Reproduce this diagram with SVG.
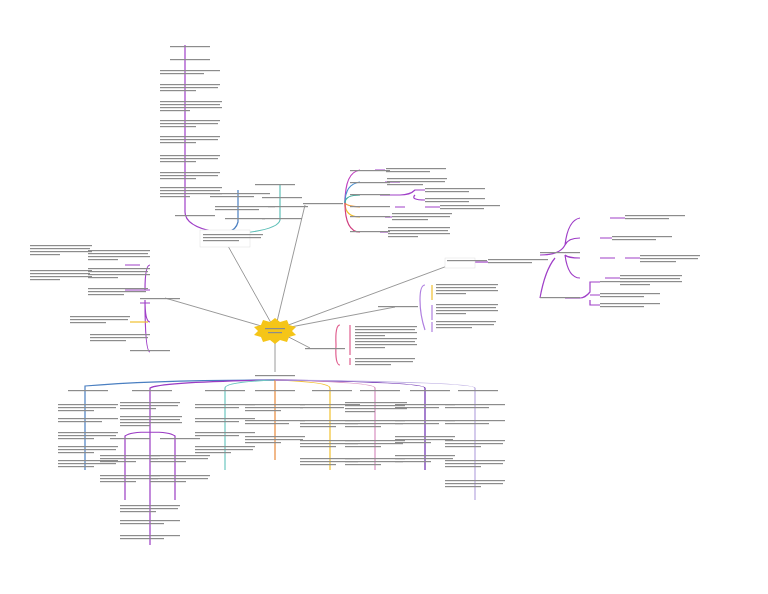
<svg xmlns="http://www.w3.org/2000/svg" width="768" height="594" viewBox="0 0 768 594">
<style>
.g{stroke:#9a9a9a;stroke-width:1;fill:none}
.c{fill:none;stroke-width:1.2}
.t rect,rect.t{fill:#8c8c8c}
.nb{fill:#fff;stroke:#ddd;stroke-width:0.5}
</style>
<defs>
<g id="b1" class="t"><rect width="40" height="1.2"/></g>
<g id="b2" class="t"><rect width="60" height="1.2"/><rect y="3" width="44" height="1.2"/></g>
<g id="b3" class="t"><rect width="60" height="1.2"/><rect y="3" width="58" height="1.2"/><rect y="6" width="36" height="1.2"/></g>
<g id="b4" class="t"><rect width="62" height="1.2"/><rect y="3" width="60" height="1.2"/><rect y="6" width="62" height="1.2"/><rect y="9" width="30" height="1.2"/></g>
</defs>
<rect width="768" height="594" fill="#fff"/>
<g id="connectors">
<path class="g" d="M275 330L228 246M275 330L305 205M275 330L450 265M275 330L395 307M275 330L310 348M275 330V372M275 330L165 298"/>
<path class="c" stroke="#a040c8" d="M185 45V212Q185 226 215 232"/>
<path class="c" stroke="#4a7fc1" d="M238 190V222Q236 230 228 232"/>
<path class="c" stroke="#60c0b8" d="M280 185V220Q278 230 235 234"/>
<path class="c" stroke="#c040c0" d="M345 203Q345 172 360 170"/>
<path class="c" stroke="#4a90d0" d="M345 203Q345 184 360 182"/>
<path class="c" stroke="#40b0a0" d="M345 203Q345 195 360 195"/>
<path class="c" stroke="#f0a040" d="M345 203Q346 206 360 207"/>
<path class="c" stroke="#f0c030" d="M345 203Q345 217 360 217"/>
<path class="c" stroke="#d04080" d="M345 203Q345 232 360 232"/>
<path class="c" stroke="#a040c8" d="M375 170H385M400 182H385M380 195H390L400 195Q410 195 415 190H425M415 195Q410 200 425 200M395 207H405M425 207H440M385 217H392M380 232H388"/>
<path class="c" stroke="#a040c8" d="M470 262H488"/>
<path class="c" stroke="#a040c8" d="M540 255Q560 255 565 245Q568 238 580 238M565 245Q568 220 580 218M565 255Q568 258 580 258M565 255Q568 278 580 278M600 238H612M610 218H625M600 258H615M625 258H640M605 278H620"/>
<path class="c" stroke="#a040c8" d="M565 298H580Q585 298 590 292V282H600M590 300V305H600M590 295H600"/>
<path class="c" stroke="#a040c8" d="M540 298Q545 270 555 258"/>
<path class="c" stroke="#b080e0" d="M425 285Q420 285 420 300Q420 315 425 330"/>
<path class="c" stroke="#f0c030" d="M432 285V300"/>
<path class="c" stroke="#b080e0" d="M432 305V320M432 322V332"/>
<path class="c" stroke="#e06090" d="M340 325Q335 325 336 345Q335 365 340 365M350 325V355M350 358V365"/>
<path class="c" stroke="#a040c8" d="M150 265Q145 265 145 290M150 290H140M150 303H140M150 322Q145 322 145 300M150 352Q145 352 145 300"/>
<path class="c" stroke="#f0c030" d="M148 322H130"/>
<path class="c" stroke="#a040c8" d="M140 265H125M140 290H125"/>
<path class="c" stroke="#4a7fc1" d="M275 380Q150 380 85 386V470"/>
<path class="c" stroke="#9b3cc4" d="M275 380Q160 382 150 388V545M150 432Q130 432 125 436V500M150 432Q170 432 175 436V500"/>
<path class="c" stroke="#6cc7c0" d="M275 380Q225 382 225 388V470"/>
<path class="c" stroke="#e8893a" d="M275 380V460"/>
<path class="c" stroke="#f2c230" d="M275 380Q330 382 330 388V470"/>
<path class="c" stroke="#d78fc0" d="M275 380Q375 382 375 388V470"/>
<path class="c" stroke="#6a2bb0" d="M275 380Q425 382 425 388V470"/>
<path class="c" stroke="#b8a8e0" d="M275 380Q475 382 475 388V500"/>
</g>
<g id="center"><polygon points="275,318 280,322 287,320 289,325 296,327 292,331 296,335 289,337 287,342 280,340 275,344 270,340 263,342 261,337 254,335 258,331 254,327 261,325 263,320 270,322" fill="#f5c518"/><rect class="t" x="265" y="328" width="20" height="1.2"/><rect class="t" x="268" y="332" width="14" height="1.2"/></g>
<g id="n-top"><rect class="nb" x="200" y="230" width="50" height="17"/><use href="#b3" x="203" y="234" transform="scale(1)"/></g>
<g id="n-top-col"><use href="#b1" x="170" y="46"/><use href="#b1" x="170" y="59"/><use href="#b2" x="160" y="70"/><use href="#b3" x="160" y="84"/><use href="#b4" x="160" y="101"/><use href="#b3" x="160" y="120"/><use href="#b3" x="160" y="136"/><use href="#b3" x="160" y="155"/><use href="#b3" x="160" y="172"/><use href="#b4" x="160" y="187"/><use href="#b1" x="175" y="215"/><use href="#b1" x="255" y="184"/><use href="#b2" x="210" y="193"/><use href="#b2" x="215" y="206"/><use href="#b1" x="262" y="197"/><use href="#b1" x="268" y="206"/><use href="#b1" x="225" y="218"/><use href="#b1" x="262" y="218"/></g>
<g id="n-texto"><use href="#b1" x="303" y="203"/><use href="#b1" x="350" y="170"/><use href="#b1" x="350" y="182"/><use href="#b1" x="350" y="194"/><use href="#b1" x="350" y="206"/><use href="#b1" x="350" y="216"/><use href="#b1" x="350" y="231"/><use href="#b2" x="386" y="168"/><use href="#b3" x="387" y="178"/><use href="#b2" x="425" y="188"/><use href="#b2" x="425" y="198"/><use href="#b2" x="440" y="205"/><use href="#b3" x="392" y="213"/><use href="#b4" x="388" y="227"/></g>
<g id="n-right"><rect class="nb" x="445" y="258" width="30" height="10"/><use href="#b1" x="447" y="260"/><use href="#b2" x="488" y="259"/><use href="#b1" x="540" y="252"/><use href="#b1" x="540" y="297"/><use href="#b2" x="625" y="215"/><use href="#b2" x="612" y="236"/><use href="#b3" x="640" y="255"/><use href="#b4" x="620" y="275"/><use href="#b1" x="600" y="281"/><use href="#b2" x="600" y="293"/><use href="#b2" x="600" y="303"/></g>
<g id="n-prop"><use href="#b1" x="378" y="306"/><use href="#b4" x="436" y="284"/><use href="#b4" x="436" y="304"/><use href="#b3" x="436" y="321"/></g>
<g id="n-cond"><use href="#b1" x="305" y="348"/><use href="#b4" x="355" y="326"/><use href="#b4" x="355" y="338"/><use href="#b3" x="355" y="358"/></g>
<g id="n-left"><use href="#b1" x="140" y="298"/><use href="#b4" x="30" y="245"/><use href="#b4" x="88" y="250"/><use href="#b4" x="30" y="270"/><use href="#b4" x="88" y="268"/><use href="#b3" x="88" y="288"/><use href="#b3" x="70" y="316"/><use href="#b3" x="90" y="334"/><use href="#b1" x="130" y="350"/></g>
<g id="n-estructura"><use href="#b1" x="255" y="375"/>
<use href="#b1" x="68" y="390"/><use href="#b3" x="58" y="404"/><use href="#b2" x="58" y="418"/><use href="#b3" x="58" y="432"/><use href="#b3" x="58" y="446"/><use href="#b3" x="58" y="460"/>
<use href="#b1" x="132" y="390"/><use href="#b3" x="120" y="402"/><use href="#b4" x="120" y="416"/><use href="#b1" x="110" y="438"/><use href="#b1" x="160" y="438"/><use href="#b3" x="100" y="455"/><use href="#b3" x="100" y="475"/><use href="#b3" x="150" y="455"/><use href="#b3" x="150" y="475"/><use href="#b3" x="120" y="505"/><use href="#b2" x="120" y="520"/><use href="#b2" x="120" y="535"/>
<use href="#b1" x="205" y="390"/><use href="#b2" x="195" y="404"/><use href="#b2" x="195" y="418"/><use href="#b2" x="195" y="432"/><use href="#b3" x="195" y="446"/>
<use href="#b1" x="255" y="390"/><use href="#b3" x="245" y="404"/><use href="#b2" x="245" y="420"/><use href="#b3" x="245" y="436"/>
<use href="#b1" x="312" y="390"/><use href="#b2" x="300" y="404"/><use href="#b3" x="300" y="420"/><use href="#b3" x="300" y="440"/><use href="#b3" x="300" y="458"/>
<use href="#b1" x="360" y="390"/><use href="#b4" x="345" y="402"/><use href="#b3" x="345" y="420"/><use href="#b3" x="345" y="440"/><use href="#b3" x="345" y="458"/>
<use href="#b1" x="410" y="390"/><use href="#b2" x="395" y="404"/><use href="#b2" x="395" y="420"/><use href="#b3" x="395" y="436"/><use href="#b3" x="395" y="455"/>
<use href="#b1" x="458" y="390"/><use href="#b2" x="445" y="404"/><use href="#b2" x="445" y="420"/><use href="#b3" x="445" y="440"/><use href="#b3" x="445" y="460"/><use href="#b3" x="445" y="480"/>
</g>
</svg>
